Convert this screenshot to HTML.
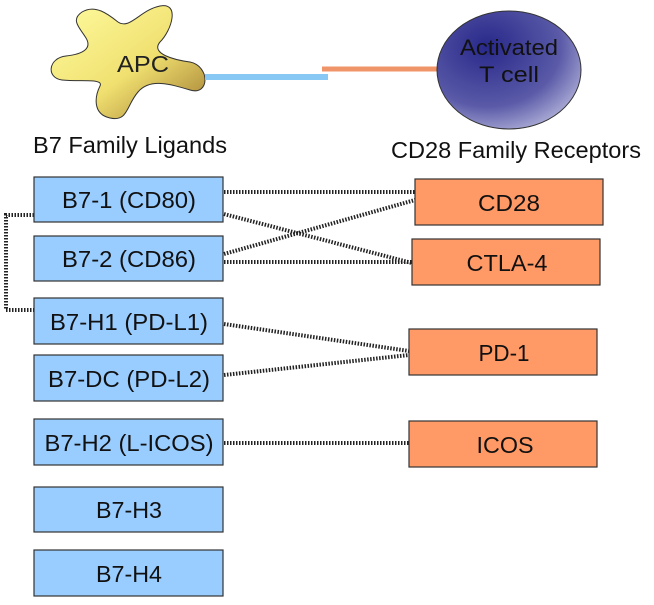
<!DOCTYPE html>
<html><head><meta charset="utf-8"><style>
body{margin:0;background:#fff;}
svg text{font-family:"Liberation Sans",sans-serif;}
</style></head><body>
<svg width="654" height="600" viewBox="0 0 654 600" xmlns="http://www.w3.org/2000/svg">
<defs>
<linearGradient id="ap" x1="0" y1="0" x2="1" y2="1"><stop offset="0" stop-color="#fffca0"/><stop offset="0.55" stop-color="#f0e070"/><stop offset="1" stop-color="#a07a30"/></linearGradient>
<radialGradient id="tc" cx="0.35" cy="0.3" r="0.85"><stop offset="0" stop-color="#28288a"/><stop offset="0.6" stop-color="#5a5aa8"/><stop offset="1" stop-color="#c8c8e6"/></radialGradient>
</defs>
<path d="M82,12 C95,4 108,14 118,22 C130,30 140,10 160,6 C180,2 172,30 160,42 C150,54 175,60 190,62 C210,66 210,96 190,90 C170,84 150,78 138,92 C126,106 128,122 110,118 C92,114 95,96 100,86 C104,78 80,82 62,80 C46,78 48,58 66,56 C84,54 92,48 86,38 C80,28 70,20 82,12 Z" fill="url(#ap)" stroke="#333" stroke-width="1"/>
<text x="143" y="72" font-size="23" text-anchor="middle" fill="#222" textLength="52" lengthAdjust="spacingAndGlyphs">APC</text>
<line x1="205" y1="77" x2="328" y2="77" stroke="#88c8f4" stroke-width="6"/>
<line x1="322" y1="69" x2="440" y2="69" stroke="#f0946a" stroke-width="5"/>
<ellipse cx="509" cy="70" rx="72" ry="59" fill="url(#tc)" stroke="#333" stroke-width="1"/>
<text x="509" y="55" font-size="22" text-anchor="middle" fill="#111" textLength="98" lengthAdjust="spacingAndGlyphs">Activated</text>
<text x="509" y="82" font-size="22" text-anchor="middle" fill="#111" textLength="60" lengthAdjust="spacingAndGlyphs">T cell</text>
<text x="130" y="153" font-size="23" text-anchor="middle" fill="#111" textLength="194" lengthAdjust="spacingAndGlyphs">B7 Family Ligands</text>
<text x="516" y="158" font-size="23" text-anchor="middle" fill="#111" textLength="250" lengthAdjust="spacingAndGlyphs">CD28 Family Receptors</text>
<g stroke="#222" stroke-width="4" stroke-dasharray="1.5,1.5" fill="none">
<line x1="224" y1="192" x2="415" y2="192"/>
<line x1="224" y1="214" x2="412" y2="263"/>
<line x1="224" y1="254" x2="415" y2="200"/>
<line x1="224" y1="262" x2="412" y2="262"/>
<line x1="224" y1="324" x2="409" y2="351"/>
<line x1="224" y1="375" x2="409" y2="355"/>
<line x1="224" y1="443" x2="409" y2="443"/>
<polyline points="34,215 6,215 6,310 34,310"/>
</g>
<g stroke="#333" stroke-width="1.2">
<rect x="34" y="177" width="189" height="45" fill="#99ccff"/>
<rect x="34" y="236" width="189" height="45" fill="#99ccff"/>
<rect x="34" y="298" width="189" height="46" fill="#99ccff"/>
<rect x="34" y="355" width="189" height="46" fill="#99ccff"/>
<rect x="34" y="419" width="189" height="46" fill="#99ccff"/>
<rect x="34" y="487" width="189" height="45" fill="#99ccff"/>
<rect x="34" y="550" width="189" height="46" fill="#99ccff"/>
<rect x="415" y="179" width="188" height="46" fill="#ff9966"/>
<rect x="412" y="239" width="188" height="46" fill="#ff9966"/>
<rect x="409" y="329" width="188" height="46" fill="#ff9966"/>
<rect x="409" y="421" width="188" height="46" fill="#ff9966"/>
</g>
<g font-size="23" text-anchor="middle" fill="#111" lengthAdjust="spacingAndGlyphs">
<text x="129" y="208" textLength="134" lengthAdjust="spacingAndGlyphs">B7-1 (CD80)</text>
<text x="129" y="267" textLength="134" lengthAdjust="spacingAndGlyphs">B7-2 (CD86)</text>
<text x="129" y="330" textLength="158" lengthAdjust="spacingAndGlyphs">B7-H1 (PD-L1)</text>
<text x="129" y="387" textLength="162" lengthAdjust="spacingAndGlyphs">B7-DC (PD-L2)</text>
<text x="129" y="451" textLength="169" lengthAdjust="spacingAndGlyphs">B7-H2 (L-ICOS)</text>
<text x="129" y="518" textLength="66" lengthAdjust="spacingAndGlyphs">B7-H3</text>
<text x="129" y="582" textLength="66" lengthAdjust="spacingAndGlyphs">B7-H4</text>
<text x="509" y="211" textLength="62" lengthAdjust="spacingAndGlyphs">CD28</text>
<text x="507" y="271" textLength="81" lengthAdjust="spacingAndGlyphs">CTLA-4</text>
<text x="504" y="361" textLength="51" lengthAdjust="spacingAndGlyphs">PD-1</text>
<text x="505" y="453" textLength="57" lengthAdjust="spacingAndGlyphs">ICOS</text>
</g>
</svg>
</body></html>
